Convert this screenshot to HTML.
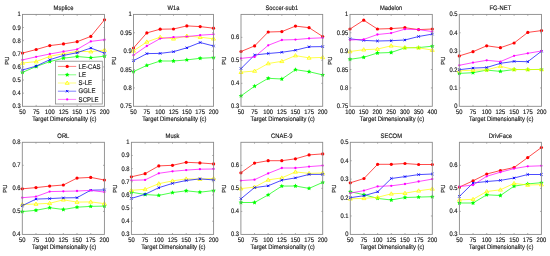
<!DOCTYPE html>
<html><head><meta charset="utf-8"><style>
html,body{margin:0;padding:0;background:#fff;}
svg{display:block;}
text{font-family:"Liberation Sans",sans-serif;font-size:5.85px;fill:#111;stroke:#111;stroke-width:0.12px;}
</style></head><body>
<svg width="550" height="256" viewBox="0 0 550 256" >
<defs></defs>
<rect width="550" height="256" fill="#fff"/>
<g>
<path d="M22.50 93.17h1.4M104.50 93.17h-1.4" stroke="#8a8a8a" stroke-width="0.7"/>
<path d="M22.50 80.04h1.4M104.50 80.04h-1.4" stroke="#8a8a8a" stroke-width="0.7"/>
<path d="M22.50 66.91h1.4M104.50 66.91h-1.4" stroke="#8a8a8a" stroke-width="0.7"/>
<path d="M22.50 53.79h1.4M104.50 53.79h-1.4" stroke="#8a8a8a" stroke-width="0.7"/>
<path d="M22.50 40.66h1.4M104.50 40.66h-1.4" stroke="#8a8a8a" stroke-width="0.7"/>
<path d="M22.50 27.53h1.4M104.50 27.53h-1.4" stroke="#8a8a8a" stroke-width="0.7"/>
<path d="M36.17 106.30v-1.4M36.17 14.40v1.4" stroke="#8a8a8a" stroke-width="0.7"/>
<path d="M49.83 106.30v-1.4M49.83 14.40v1.4" stroke="#8a8a8a" stroke-width="0.7"/>
<path d="M63.50 106.30v-1.4M63.50 14.40v1.4" stroke="#8a8a8a" stroke-width="0.7"/>
<path d="M77.17 106.30v-1.4M77.17 14.40v1.4" stroke="#8a8a8a" stroke-width="0.7"/>
<path d="M90.83 106.30v-1.4M90.83 14.40v1.4" stroke="#8a8a8a" stroke-width="0.7"/>
<polyline points="22.50,53.10 36.17,49.50 49.83,45.60 63.50,43.90 77.17,41.70 90.83,36.40 104.50,19.80" fill="none" stroke="#ff0000" stroke-width="1.0" stroke-opacity="0.7"/>
<circle cx="22.50" cy="53.10" r="1.6" fill="#ff0000"/>
<circle cx="36.17" cy="49.50" r="1.6" fill="#ff0000"/>
<circle cx="49.83" cy="45.60" r="1.6" fill="#ff0000"/>
<circle cx="63.50" cy="43.90" r="1.6" fill="#ff0000"/>
<circle cx="77.17" cy="41.70" r="1.6" fill="#ff0000"/>
<circle cx="90.83" cy="36.40" r="1.6" fill="#ff0000"/>
<circle cx="104.50" cy="19.80" r="1.6" fill="#ff0000"/>
<polyline points="22.50,72.40 36.17,66.50 49.83,61.60 63.50,58.20 77.17,56.50 90.83,57.70 104.50,56.20" fill="none" stroke="#00ff00" stroke-width="1.0" stroke-opacity="0.7"/>
<polygon points="22.50,70.00 23.18,71.47 24.78,71.66 23.59,72.76 23.91,74.34 22.50,73.55 21.09,74.34 21.41,72.76 20.22,71.66 21.82,71.47" fill="#00ff00"/>
<polygon points="36.17,64.10 36.84,65.57 38.45,65.76 37.26,66.86 37.58,68.44 36.17,67.65 34.76,68.44 35.07,66.86 33.88,65.76 35.49,65.57" fill="#00ff00"/>
<polygon points="49.83,59.20 50.51,60.67 52.12,60.86 50.93,61.96 51.24,63.54 49.83,62.75 48.42,63.54 48.74,61.96 47.55,60.86 49.16,60.67" fill="#00ff00"/>
<polygon points="63.50,55.80 64.18,57.27 65.78,57.46 64.59,58.56 64.91,60.14 63.50,59.35 62.09,60.14 62.41,58.56 61.22,57.46 62.82,57.27" fill="#00ff00"/>
<polygon points="77.17,54.10 77.84,55.57 79.45,55.76 78.26,56.86 78.58,58.44 77.17,57.65 75.76,58.44 76.07,56.86 74.88,55.76 76.49,55.57" fill="#00ff00"/>
<polygon points="90.83,55.30 91.51,56.77 93.12,56.96 91.93,58.06 92.24,59.64 90.83,58.85 89.42,59.64 89.74,58.06 88.55,56.96 90.16,56.77" fill="#00ff00"/>
<polygon points="104.50,53.80 105.18,55.27 106.78,55.46 105.59,56.56 105.91,58.14 104.50,57.35 103.09,58.14 103.41,56.56 102.22,55.46 103.82,55.27" fill="#00ff00"/>
<polyline points="22.50,63.00 36.17,61.60 49.83,56.30 63.50,53.70 77.17,51.40 90.83,51.60 104.50,50.00" fill="none" stroke="#ffff00" stroke-width="1.0" stroke-opacity="0.7"/>
<polygon points="22.50,61.00 24.50,64.30 20.50,64.30" fill="none" stroke="#ffff00" stroke-width="0.8"/>
<polygon points="36.17,59.60 38.17,62.90 34.17,62.90" fill="none" stroke="#ffff00" stroke-width="0.8"/>
<polygon points="49.83,54.30 51.83,57.60 47.83,57.60" fill="none" stroke="#ffff00" stroke-width="0.8"/>
<polygon points="63.50,51.70 65.50,55.00 61.50,55.00" fill="none" stroke="#ffff00" stroke-width="0.8"/>
<polygon points="77.17,49.40 79.17,52.70 75.17,52.70" fill="none" stroke="#ffff00" stroke-width="0.8"/>
<polygon points="90.83,49.60 92.83,52.90 88.83,52.90" fill="none" stroke="#ffff00" stroke-width="0.8"/>
<polygon points="104.50,48.00 106.50,51.30 102.50,51.30" fill="none" stroke="#ffff00" stroke-width="0.8"/>
<polyline points="22.50,70.00 36.17,66.10 49.83,59.70 63.50,55.40 77.17,52.70 90.83,48.00 104.50,53.20" fill="none" stroke="#0000ff" stroke-width="1.0" stroke-opacity="0.7"/>
<path d="M21.30 68.80L23.70 71.20M21.30 71.20L23.70 68.80" stroke="#0000ff" stroke-width="0.9"/>
<path d="M34.97 64.90L37.37 67.30M34.97 67.30L37.37 64.90" stroke="#0000ff" stroke-width="0.9"/>
<path d="M48.63 58.50L51.03 60.90M48.63 60.90L51.03 58.50" stroke="#0000ff" stroke-width="0.9"/>
<path d="M62.30 54.20L64.70 56.60M62.30 56.60L64.70 54.20" stroke="#0000ff" stroke-width="0.9"/>
<path d="M75.97 51.50L78.37 53.90M75.97 53.90L78.37 51.50" stroke="#0000ff" stroke-width="0.9"/>
<path d="M89.63 46.80L92.03 49.20M89.63 49.20L92.03 46.80" stroke="#0000ff" stroke-width="0.9"/>
<path d="M103.30 52.00L105.70 54.40M103.30 54.40L105.70 52.00" stroke="#0000ff" stroke-width="0.9"/>
<polyline points="22.50,59.90 36.17,56.80 49.83,54.00 63.50,51.50 77.17,49.30 90.83,41.40 104.50,39.70" fill="none" stroke="#ff00ff" stroke-width="1.0" stroke-opacity="0.7"/>
<circle cx="22.50" cy="59.90" r="1.15" fill="#ff00ff"/>
<circle cx="36.17" cy="56.80" r="1.15" fill="#ff00ff"/>
<circle cx="49.83" cy="54.00" r="1.15" fill="#ff00ff"/>
<circle cx="63.50" cy="51.50" r="1.15" fill="#ff00ff"/>
<circle cx="77.17" cy="49.30" r="1.15" fill="#ff00ff"/>
<circle cx="90.83" cy="41.40" r="1.15" fill="#ff00ff"/>
<circle cx="104.50" cy="39.70" r="1.15" fill="#ff00ff"/>
<rect x="22.50" y="14.40" width="82.00" height="91.90" fill="none" stroke="#8a8a8a" stroke-width="0.9"/>
<path d="M133.50 87.92h1.4M213.50 87.92h-1.4" stroke="#8a8a8a" stroke-width="0.7"/>
<path d="M133.50 69.54h1.4M213.50 69.54h-1.4" stroke="#8a8a8a" stroke-width="0.7"/>
<path d="M133.50 51.16h1.4M213.50 51.16h-1.4" stroke="#8a8a8a" stroke-width="0.7"/>
<path d="M133.50 32.78h1.4M213.50 32.78h-1.4" stroke="#8a8a8a" stroke-width="0.7"/>
<path d="M146.83 106.30v-1.4M146.83 14.40v1.4" stroke="#8a8a8a" stroke-width="0.7"/>
<path d="M160.17 106.30v-1.4M160.17 14.40v1.4" stroke="#8a8a8a" stroke-width="0.7"/>
<path d="M173.50 106.30v-1.4M173.50 14.40v1.4" stroke="#8a8a8a" stroke-width="0.7"/>
<path d="M186.83 106.30v-1.4M186.83 14.40v1.4" stroke="#8a8a8a" stroke-width="0.7"/>
<path d="M200.17 106.30v-1.4M200.17 14.40v1.4" stroke="#8a8a8a" stroke-width="0.7"/>
<polyline points="133.50,48.00 146.83,32.90 160.17,29.20 173.50,29.00 186.83,25.90 200.17,26.60 213.50,28.20" fill="none" stroke="#ff0000" stroke-width="1.0" stroke-opacity="0.7"/>
<circle cx="133.50" cy="48.00" r="1.6" fill="#ff0000"/>
<circle cx="146.83" cy="32.90" r="1.6" fill="#ff0000"/>
<circle cx="160.17" cy="29.20" r="1.6" fill="#ff0000"/>
<circle cx="173.50" cy="29.00" r="1.6" fill="#ff0000"/>
<circle cx="186.83" cy="25.90" r="1.6" fill="#ff0000"/>
<circle cx="200.17" cy="26.60" r="1.6" fill="#ff0000"/>
<circle cx="213.50" cy="28.20" r="1.6" fill="#ff0000"/>
<polyline points="133.50,71.60 146.83,65.40 160.17,61.00 173.50,61.00 186.83,59.90 200.17,58.30 213.50,57.60" fill="none" stroke="#00ff00" stroke-width="1.0" stroke-opacity="0.7"/>
<polygon points="133.50,69.20 134.18,70.67 135.78,70.86 134.59,71.96 134.91,73.54 133.50,72.75 132.09,73.54 132.41,71.96 131.22,70.86 132.82,70.67" fill="#00ff00"/>
<polygon points="146.83,63.00 147.51,64.47 149.12,64.66 147.93,65.76 148.24,67.34 146.83,66.55 145.42,67.34 145.74,65.76 144.55,64.66 146.16,64.47" fill="#00ff00"/>
<polygon points="160.17,58.60 160.84,60.07 162.45,60.26 161.26,61.36 161.58,62.94 160.17,62.15 158.76,62.94 159.07,61.36 157.88,60.26 159.49,60.07" fill="#00ff00"/>
<polygon points="173.50,58.60 174.18,60.07 175.78,60.26 174.59,61.36 174.91,62.94 173.50,62.15 172.09,62.94 172.41,61.36 171.22,60.26 172.82,60.07" fill="#00ff00"/>
<polygon points="186.83,57.50 187.51,58.97 189.12,59.16 187.93,60.26 188.24,61.84 186.83,61.05 185.42,61.84 185.74,60.26 184.55,59.16 186.16,58.97" fill="#00ff00"/>
<polygon points="200.17,55.90 200.84,57.37 202.45,57.56 201.26,58.66 201.58,60.24 200.17,59.45 198.76,60.24 199.07,58.66 197.88,57.56 199.49,57.37" fill="#00ff00"/>
<polygon points="213.50,55.20 214.18,56.67 215.78,56.86 214.59,57.96 214.91,59.54 213.50,58.75 212.09,59.54 212.41,57.96 211.22,56.86 212.82,56.67" fill="#00ff00"/>
<polyline points="133.50,50.90 146.83,41.90 160.17,37.20 173.50,38.80 186.83,36.00 200.17,37.20 213.50,38.80" fill="none" stroke="#ffff00" stroke-width="1.0" stroke-opacity="0.7"/>
<polygon points="133.50,48.90 135.50,52.20 131.50,52.20" fill="none" stroke="#ffff00" stroke-width="0.8"/>
<polygon points="146.83,39.90 148.83,43.20 144.83,43.20" fill="none" stroke="#ffff00" stroke-width="0.8"/>
<polygon points="160.17,35.20 162.17,38.50 158.17,38.50" fill="none" stroke="#ffff00" stroke-width="0.8"/>
<polygon points="173.50,36.80 175.50,40.10 171.50,40.10" fill="none" stroke="#ffff00" stroke-width="0.8"/>
<polygon points="186.83,34.00 188.83,37.30 184.83,37.30" fill="none" stroke="#ffff00" stroke-width="0.8"/>
<polygon points="200.17,35.20 202.17,38.50 198.17,38.50" fill="none" stroke="#ffff00" stroke-width="0.8"/>
<polygon points="213.50,36.80 215.50,40.10 211.50,40.10" fill="none" stroke="#ffff00" stroke-width="0.8"/>
<polyline points="133.50,60.70 146.83,53.60 160.17,53.40 173.50,51.70 186.83,47.80 200.17,42.50 213.50,46.00" fill="none" stroke="#0000ff" stroke-width="1.0" stroke-opacity="0.7"/>
<path d="M132.30 59.50L134.70 61.90M132.30 61.90L134.70 59.50" stroke="#0000ff" stroke-width="0.9"/>
<path d="M145.63 52.40L148.03 54.80M145.63 54.80L148.03 52.40" stroke="#0000ff" stroke-width="0.9"/>
<path d="M158.97 52.20L161.37 54.60M158.97 54.60L161.37 52.20" stroke="#0000ff" stroke-width="0.9"/>
<path d="M172.30 50.50L174.70 52.90M172.30 52.90L174.70 50.50" stroke="#0000ff" stroke-width="0.9"/>
<path d="M185.63 46.60L188.03 49.00M185.63 49.00L188.03 46.60" stroke="#0000ff" stroke-width="0.9"/>
<path d="M198.97 41.30L201.37 43.70M198.97 43.70L201.37 41.30" stroke="#0000ff" stroke-width="0.9"/>
<path d="M212.30 44.80L214.70 47.20M212.30 47.20L214.70 44.80" stroke="#0000ff" stroke-width="0.9"/>
<polyline points="133.50,55.20 146.83,46.00 160.17,38.60 173.50,37.20 186.83,36.60 200.17,35.20 213.50,34.30" fill="none" stroke="#ff00ff" stroke-width="1.0" stroke-opacity="0.7"/>
<circle cx="133.50" cy="55.20" r="1.15" fill="#ff00ff"/>
<circle cx="146.83" cy="46.00" r="1.15" fill="#ff00ff"/>
<circle cx="160.17" cy="38.60" r="1.15" fill="#ff00ff"/>
<circle cx="173.50" cy="37.20" r="1.15" fill="#ff00ff"/>
<circle cx="186.83" cy="36.60" r="1.15" fill="#ff00ff"/>
<circle cx="200.17" cy="35.20" r="1.15" fill="#ff00ff"/>
<circle cx="213.50" cy="34.30" r="1.15" fill="#ff00ff"/>
<rect x="133.50" y="14.40" width="80.00" height="91.90" fill="none" stroke="#8a8a8a" stroke-width="0.9"/>
<path d="M241.00 83.32h1.4M322.70 83.32h-1.4" stroke="#8a8a8a" stroke-width="0.7"/>
<path d="M241.00 60.35h1.4M322.70 60.35h-1.4" stroke="#8a8a8a" stroke-width="0.7"/>
<path d="M241.00 37.37h1.4M322.70 37.37h-1.4" stroke="#8a8a8a" stroke-width="0.7"/>
<path d="M254.62 106.30v-1.4M254.62 14.40v1.4" stroke="#8a8a8a" stroke-width="0.7"/>
<path d="M268.23 106.30v-1.4M268.23 14.40v1.4" stroke="#8a8a8a" stroke-width="0.7"/>
<path d="M281.85 106.30v-1.4M281.85 14.40v1.4" stroke="#8a8a8a" stroke-width="0.7"/>
<path d="M295.47 106.30v-1.4M295.47 14.40v1.4" stroke="#8a8a8a" stroke-width="0.7"/>
<path d="M309.08 106.30v-1.4M309.08 14.40v1.4" stroke="#8a8a8a" stroke-width="0.7"/>
<polyline points="241.00,51.50 254.62,45.90 268.23,32.00 281.85,31.60 295.47,26.10 309.08,27.70 322.70,36.50" fill="none" stroke="#ff0000" stroke-width="1.0" stroke-opacity="0.7"/>
<circle cx="241.00" cy="51.50" r="1.6" fill="#ff0000"/>
<circle cx="254.62" cy="45.90" r="1.6" fill="#ff0000"/>
<circle cx="268.23" cy="32.00" r="1.6" fill="#ff0000"/>
<circle cx="281.85" cy="31.60" r="1.6" fill="#ff0000"/>
<circle cx="295.47" cy="26.10" r="1.6" fill="#ff0000"/>
<circle cx="309.08" cy="27.70" r="1.6" fill="#ff0000"/>
<circle cx="322.70" cy="36.50" r="1.6" fill="#ff0000"/>
<polyline points="241.00,95.90 254.62,86.20 268.23,78.30 281.85,79.00 295.47,69.70 309.08,71.70 322.70,74.90" fill="none" stroke="#00ff00" stroke-width="1.0" stroke-opacity="0.7"/>
<polygon points="241.00,93.50 241.68,94.97 243.28,95.16 242.09,96.26 242.41,97.84 241.00,97.05 239.59,97.84 239.91,96.26 238.72,95.16 240.32,94.97" fill="#00ff00"/>
<polygon points="254.62,83.80 255.29,85.27 256.90,85.46 255.71,86.56 256.03,88.14 254.62,87.35 253.21,88.14 253.52,86.56 252.33,85.46 253.94,85.27" fill="#00ff00"/>
<polygon points="268.23,75.90 268.91,77.37 270.52,77.56 269.33,78.66 269.64,80.24 268.23,79.45 266.82,80.24 267.14,78.66 265.95,77.56 267.56,77.37" fill="#00ff00"/>
<polygon points="281.85,76.60 282.53,78.07 284.13,78.26 282.94,79.36 283.26,80.94 281.85,80.15 280.44,80.94 280.76,79.36 279.57,78.26 281.17,78.07" fill="#00ff00"/>
<polygon points="295.47,67.30 296.14,68.77 297.75,68.96 296.56,70.06 296.88,71.64 295.47,70.85 294.06,71.64 294.37,70.06 293.18,68.96 294.79,68.77" fill="#00ff00"/>
<polygon points="309.08,69.30 309.76,70.77 311.37,70.96 310.18,72.06 310.49,73.64 309.08,72.85 307.67,73.64 307.99,72.06 306.80,70.96 308.41,70.77" fill="#00ff00"/>
<polygon points="322.70,72.50 323.38,73.97 324.98,74.16 323.79,75.26 324.11,76.84 322.70,76.05 321.29,76.84 321.61,75.26 320.42,74.16 322.02,73.97" fill="#00ff00"/>
<polyline points="241.00,72.20 254.62,71.00 268.23,63.50 281.85,61.30 295.47,55.60 309.08,57.90 322.70,57.40" fill="none" stroke="#ffff00" stroke-width="1.0" stroke-opacity="0.7"/>
<polygon points="241.00,70.20 243.00,73.50 239.00,73.50" fill="none" stroke="#ffff00" stroke-width="0.8"/>
<polygon points="254.62,69.00 256.62,72.30 252.62,72.30" fill="none" stroke="#ffff00" stroke-width="0.8"/>
<polygon points="268.23,61.50 270.23,64.80 266.23,64.80" fill="none" stroke="#ffff00" stroke-width="0.8"/>
<polygon points="281.85,59.30 283.85,62.60 279.85,62.60" fill="none" stroke="#ffff00" stroke-width="0.8"/>
<polygon points="295.47,53.60 297.47,56.90 293.47,56.90" fill="none" stroke="#ffff00" stroke-width="0.8"/>
<polygon points="309.08,55.90 311.08,59.20 307.08,59.20" fill="none" stroke="#ffff00" stroke-width="0.8"/>
<polygon points="322.70,55.40 324.70,58.70 320.70,58.70" fill="none" stroke="#ffff00" stroke-width="0.8"/>
<polyline points="241.00,68.60 254.62,55.00 268.23,53.50 281.85,52.30 295.47,50.20 309.08,46.80 322.70,46.60" fill="none" stroke="#0000ff" stroke-width="1.0" stroke-opacity="0.7"/>
<path d="M239.80 67.40L242.20 69.80M239.80 69.80L242.20 67.40" stroke="#0000ff" stroke-width="0.9"/>
<path d="M253.42 53.80L255.82 56.20M253.42 56.20L255.82 53.80" stroke="#0000ff" stroke-width="0.9"/>
<path d="M267.03 52.30L269.43 54.70M267.03 54.70L269.43 52.30" stroke="#0000ff" stroke-width="0.9"/>
<path d="M280.65 51.10L283.05 53.50M280.65 53.50L283.05 51.10" stroke="#0000ff" stroke-width="0.9"/>
<path d="M294.27 49.00L296.67 51.40M294.27 51.40L296.67 49.00" stroke="#0000ff" stroke-width="0.9"/>
<path d="M307.88 45.60L310.28 48.00M307.88 48.00L310.28 45.60" stroke="#0000ff" stroke-width="0.9"/>
<path d="M321.50 45.40L323.90 47.80M321.50 47.80L323.90 45.40" stroke="#0000ff" stroke-width="0.9"/>
<polyline points="241.00,58.40 254.62,56.90 268.23,45.30 281.85,40.00 295.47,39.60 309.08,38.40 322.70,37.80" fill="none" stroke="#ff00ff" stroke-width="1.0" stroke-opacity="0.7"/>
<circle cx="241.00" cy="58.40" r="1.15" fill="#ff00ff"/>
<circle cx="254.62" cy="56.90" r="1.15" fill="#ff00ff"/>
<circle cx="268.23" cy="45.30" r="1.15" fill="#ff00ff"/>
<circle cx="281.85" cy="40.00" r="1.15" fill="#ff00ff"/>
<circle cx="295.47" cy="39.60" r="1.15" fill="#ff00ff"/>
<circle cx="309.08" cy="38.40" r="1.15" fill="#ff00ff"/>
<circle cx="322.70" cy="37.80" r="1.15" fill="#ff00ff"/>
<rect x="241.00" y="14.40" width="81.70" height="91.90" fill="none" stroke="#8a8a8a" stroke-width="0.9"/>
<path d="M350.00 87.92h1.4M432.30 87.92h-1.4" stroke="#8a8a8a" stroke-width="0.7"/>
<path d="M350.00 69.54h1.4M432.30 69.54h-1.4" stroke="#8a8a8a" stroke-width="0.7"/>
<path d="M350.00 51.16h1.4M432.30 51.16h-1.4" stroke="#8a8a8a" stroke-width="0.7"/>
<path d="M350.00 32.78h1.4M432.30 32.78h-1.4" stroke="#8a8a8a" stroke-width="0.7"/>
<path d="M363.72 106.30v-1.4M363.72 14.40v1.4" stroke="#8a8a8a" stroke-width="0.7"/>
<path d="M377.43 106.30v-1.4M377.43 14.40v1.4" stroke="#8a8a8a" stroke-width="0.7"/>
<path d="M391.15 106.30v-1.4M391.15 14.40v1.4" stroke="#8a8a8a" stroke-width="0.7"/>
<path d="M404.87 106.30v-1.4M404.87 14.40v1.4" stroke="#8a8a8a" stroke-width="0.7"/>
<path d="M418.58 106.30v-1.4M418.58 14.40v1.4" stroke="#8a8a8a" stroke-width="0.7"/>
<polyline points="350.00,29.00 363.72,20.20 377.43,29.00 391.15,28.60 404.87,27.70 418.58,29.60 432.30,29.00" fill="none" stroke="#ff0000" stroke-width="1.0" stroke-opacity="0.7"/>
<circle cx="350.00" cy="29.00" r="1.6" fill="#ff0000"/>
<circle cx="363.72" cy="20.20" r="1.6" fill="#ff0000"/>
<circle cx="377.43" cy="29.00" r="1.6" fill="#ff0000"/>
<circle cx="391.15" cy="28.60" r="1.6" fill="#ff0000"/>
<circle cx="404.87" cy="27.70" r="1.6" fill="#ff0000"/>
<circle cx="418.58" cy="29.60" r="1.6" fill="#ff0000"/>
<circle cx="432.30" cy="29.00" r="1.6" fill="#ff0000"/>
<polyline points="350.00,59.30 363.72,57.30 377.43,53.00 391.15,52.50 404.87,47.80 418.58,47.60 432.30,46.20" fill="none" stroke="#00ff00" stroke-width="1.0" stroke-opacity="0.7"/>
<polygon points="350.00,56.90 350.68,58.37 352.28,58.56 351.09,59.66 351.41,61.24 350.00,60.45 348.59,61.24 348.91,59.66 347.72,58.56 349.32,58.37" fill="#00ff00"/>
<polygon points="363.72,54.90 364.39,56.37 366.00,56.56 364.81,57.66 365.13,59.24 363.72,58.45 362.31,59.24 362.62,57.66 361.43,56.56 363.04,56.37" fill="#00ff00"/>
<polygon points="377.43,50.60 378.11,52.07 379.72,52.26 378.53,53.36 378.84,54.94 377.43,54.15 376.02,54.94 376.34,53.36 375.15,52.26 376.76,52.07" fill="#00ff00"/>
<polygon points="391.15,50.10 391.83,51.57 393.43,51.76 392.24,52.86 392.56,54.44 391.15,53.65 389.74,54.44 390.06,52.86 388.87,51.76 390.47,51.57" fill="#00ff00"/>
<polygon points="404.87,45.40 405.54,46.87 407.15,47.06 405.96,48.16 406.28,49.74 404.87,48.95 403.46,49.74 403.77,48.16 402.58,47.06 404.19,46.87" fill="#00ff00"/>
<polygon points="418.58,45.20 419.26,46.67 420.87,46.86 419.68,47.96 419.99,49.54 418.58,48.75 417.17,49.54 417.49,47.96 416.30,46.86 417.91,46.67" fill="#00ff00"/>
<polygon points="432.30,43.80 432.98,45.27 434.58,45.46 433.39,46.56 433.71,48.14 432.30,47.35 430.89,48.14 431.21,46.56 430.02,45.46 431.62,45.27" fill="#00ff00"/>
<polyline points="350.00,51.50 363.72,49.70 377.43,49.10 391.15,45.80 404.87,47.60 418.58,47.80 432.30,50.10" fill="none" stroke="#ffff00" stroke-width="1.0" stroke-opacity="0.7"/>
<polygon points="350.00,49.50 352.00,52.80 348.00,52.80" fill="none" stroke="#ffff00" stroke-width="0.8"/>
<polygon points="363.72,47.70 365.72,51.00 361.72,51.00" fill="none" stroke="#ffff00" stroke-width="0.8"/>
<polygon points="377.43,47.10 379.43,50.40 375.43,50.40" fill="none" stroke="#ffff00" stroke-width="0.8"/>
<polygon points="391.15,43.80 393.15,47.10 389.15,47.10" fill="none" stroke="#ffff00" stroke-width="0.8"/>
<polygon points="404.87,45.60 406.87,48.90 402.87,48.90" fill="none" stroke="#ffff00" stroke-width="0.8"/>
<polygon points="418.58,45.80 420.58,49.10 416.58,49.10" fill="none" stroke="#ffff00" stroke-width="0.8"/>
<polygon points="432.30,48.10 434.30,51.40 430.30,51.40" fill="none" stroke="#ffff00" stroke-width="0.8"/>
<polyline points="350.00,38.80 363.72,40.40 377.43,41.00 391.15,40.70 404.87,40.00 418.58,36.50 432.30,34.10" fill="none" stroke="#0000ff" stroke-width="1.0" stroke-opacity="0.7"/>
<path d="M348.80 37.60L351.20 40.00M348.80 40.00L351.20 37.60" stroke="#0000ff" stroke-width="0.9"/>
<path d="M362.52 39.20L364.92 41.60M362.52 41.60L364.92 39.20" stroke="#0000ff" stroke-width="0.9"/>
<path d="M376.23 39.80L378.63 42.20M376.23 42.20L378.63 39.80" stroke="#0000ff" stroke-width="0.9"/>
<path d="M389.95 39.50L392.35 41.90M389.95 41.90L392.35 39.50" stroke="#0000ff" stroke-width="0.9"/>
<path d="M403.67 38.80L406.07 41.20M403.67 41.20L406.07 38.80" stroke="#0000ff" stroke-width="0.9"/>
<path d="M417.38 35.30L419.78 37.70M417.38 37.70L419.78 35.30" stroke="#0000ff" stroke-width="0.9"/>
<path d="M431.10 32.90L433.50 35.30M431.10 35.30L433.50 32.90" stroke="#0000ff" stroke-width="0.9"/>
<polyline points="350.00,40.00 363.72,39.40 377.43,34.50 391.15,33.10 404.87,29.20 418.58,29.60 432.30,31.60" fill="none" stroke="#ff00ff" stroke-width="1.0" stroke-opacity="0.7"/>
<circle cx="350.00" cy="40.00" r="1.15" fill="#ff00ff"/>
<circle cx="363.72" cy="39.40" r="1.15" fill="#ff00ff"/>
<circle cx="377.43" cy="34.50" r="1.15" fill="#ff00ff"/>
<circle cx="391.15" cy="33.10" r="1.15" fill="#ff00ff"/>
<circle cx="404.87" cy="29.20" r="1.15" fill="#ff00ff"/>
<circle cx="418.58" cy="29.60" r="1.15" fill="#ff00ff"/>
<circle cx="432.30" cy="31.60" r="1.15" fill="#ff00ff"/>
<rect x="350.00" y="14.40" width="82.30" height="91.90" fill="none" stroke="#8a8a8a" stroke-width="0.9"/>
<path d="M459.30 87.92h1.4M541.50 87.92h-1.4" stroke="#8a8a8a" stroke-width="0.7"/>
<path d="M459.30 69.54h1.4M541.50 69.54h-1.4" stroke="#8a8a8a" stroke-width="0.7"/>
<path d="M459.30 51.16h1.4M541.50 51.16h-1.4" stroke="#8a8a8a" stroke-width="0.7"/>
<path d="M459.30 32.78h1.4M541.50 32.78h-1.4" stroke="#8a8a8a" stroke-width="0.7"/>
<path d="M473.00 106.30v-1.4M473.00 14.40v1.4" stroke="#8a8a8a" stroke-width="0.7"/>
<path d="M486.70 106.30v-1.4M486.70 14.40v1.4" stroke="#8a8a8a" stroke-width="0.7"/>
<path d="M500.40 106.30v-1.4M500.40 14.40v1.4" stroke="#8a8a8a" stroke-width="0.7"/>
<path d="M514.10 106.30v-1.4M514.10 14.40v1.4" stroke="#8a8a8a" stroke-width="0.7"/>
<path d="M527.80 106.30v-1.4M527.80 14.40v1.4" stroke="#8a8a8a" stroke-width="0.7"/>
<polyline points="459.30,55.90 473.00,51.70 486.70,45.80 500.40,47.70 514.10,43.00 527.80,32.40 541.50,30.60" fill="none" stroke="#ff0000" stroke-width="1.0" stroke-opacity="0.7"/>
<circle cx="459.30" cy="55.90" r="1.6" fill="#ff0000"/>
<circle cx="473.00" cy="51.70" r="1.6" fill="#ff0000"/>
<circle cx="486.70" cy="45.80" r="1.6" fill="#ff0000"/>
<circle cx="500.40" cy="47.70" r="1.6" fill="#ff0000"/>
<circle cx="514.10" cy="43.00" r="1.6" fill="#ff0000"/>
<circle cx="527.80" cy="32.40" r="1.6" fill="#ff0000"/>
<circle cx="541.50" cy="30.60" r="1.6" fill="#ff0000"/>
<polyline points="459.30,73.40 473.00,72.70 486.70,70.10 500.40,71.40 514.10,69.50 527.80,69.60 541.50,69.40" fill="none" stroke="#00ff00" stroke-width="1.0" stroke-opacity="0.7"/>
<polygon points="459.30,71.00 459.98,72.47 461.58,72.66 460.39,73.76 460.71,75.34 459.30,74.55 457.89,75.34 458.21,73.76 457.02,72.66 458.62,72.47" fill="#00ff00"/>
<polygon points="473.00,70.30 473.68,71.77 475.28,71.96 474.09,73.06 474.41,74.64 473.00,73.85 471.59,74.64 471.91,73.06 470.72,71.96 472.32,71.77" fill="#00ff00"/>
<polygon points="486.70,67.70 487.38,69.17 488.98,69.36 487.79,70.46 488.11,72.04 486.70,71.25 485.29,72.04 485.61,70.46 484.42,69.36 486.02,69.17" fill="#00ff00"/>
<polygon points="500.40,69.00 501.08,70.47 502.68,70.66 501.49,71.76 501.81,73.34 500.40,72.55 498.99,73.34 499.31,71.76 498.12,70.66 499.72,70.47" fill="#00ff00"/>
<polygon points="514.10,67.10 514.78,68.57 516.38,68.76 515.19,69.86 515.51,71.44 514.10,70.65 512.69,71.44 513.01,69.86 511.82,68.76 513.42,68.57" fill="#00ff00"/>
<polygon points="527.80,67.20 528.48,68.67 530.08,68.86 528.89,69.96 529.21,71.54 527.80,70.75 526.39,71.54 526.71,69.96 525.52,68.86 527.12,68.67" fill="#00ff00"/>
<polygon points="541.50,67.00 542.18,68.47 543.78,68.66 542.59,69.76 542.91,71.34 541.50,70.55 540.09,71.34 540.41,69.76 539.22,68.66 540.82,68.47" fill="#00ff00"/>
<polyline points="459.30,70.80 473.00,70.20 486.70,69.80 500.40,66.30 514.10,69.50 527.80,69.50 541.50,69.50" fill="none" stroke="#ffff00" stroke-width="1.0" stroke-opacity="0.7"/>
<polygon points="459.30,68.80 461.30,72.10 457.30,72.10" fill="none" stroke="#ffff00" stroke-width="0.8"/>
<polygon points="473.00,68.20 475.00,71.50 471.00,71.50" fill="none" stroke="#ffff00" stroke-width="0.8"/>
<polygon points="486.70,67.80 488.70,71.10 484.70,71.10" fill="none" stroke="#ffff00" stroke-width="0.8"/>
<polygon points="500.40,64.30 502.40,67.60 498.40,67.60" fill="none" stroke="#ffff00" stroke-width="0.8"/>
<polygon points="514.10,67.50 516.10,70.80 512.10,70.80" fill="none" stroke="#ffff00" stroke-width="0.8"/>
<polygon points="527.80,67.50 529.80,70.80 525.80,70.80" fill="none" stroke="#ffff00" stroke-width="0.8"/>
<polygon points="541.50,67.50 543.50,70.80 539.50,70.80" fill="none" stroke="#ffff00" stroke-width="0.8"/>
<polyline points="459.30,69.70 473.00,68.10 486.70,67.50 500.40,63.30 514.10,61.40 527.80,61.70 541.50,51.20" fill="none" stroke="#0000ff" stroke-width="1.0" stroke-opacity="0.7"/>
<path d="M458.10 68.50L460.50 70.90M458.10 70.90L460.50 68.50" stroke="#0000ff" stroke-width="0.9"/>
<path d="M471.80 66.90L474.20 69.30M471.80 69.30L474.20 66.90" stroke="#0000ff" stroke-width="0.9"/>
<path d="M485.50 66.30L487.90 68.70M485.50 68.70L487.90 66.30" stroke="#0000ff" stroke-width="0.9"/>
<path d="M499.20 62.10L501.60 64.50M499.20 64.50L501.60 62.10" stroke="#0000ff" stroke-width="0.9"/>
<path d="M512.90 60.20L515.30 62.60M512.90 62.60L515.30 60.20" stroke="#0000ff" stroke-width="0.9"/>
<path d="M526.60 60.50L529.00 62.90M526.60 62.90L529.00 60.50" stroke="#0000ff" stroke-width="0.9"/>
<path d="M540.30 50.00L542.70 52.40M540.30 52.40L542.70 50.00" stroke="#0000ff" stroke-width="0.9"/>
<polyline points="459.30,65.30 473.00,62.60 486.70,60.30 500.40,61.60 514.10,55.80 527.80,53.30 541.50,51.00" fill="none" stroke="#ff00ff" stroke-width="1.0" stroke-opacity="0.7"/>
<circle cx="459.30" cy="65.30" r="1.15" fill="#ff00ff"/>
<circle cx="473.00" cy="62.60" r="1.15" fill="#ff00ff"/>
<circle cx="486.70" cy="60.30" r="1.15" fill="#ff00ff"/>
<circle cx="500.40" cy="61.60" r="1.15" fill="#ff00ff"/>
<circle cx="514.10" cy="55.80" r="1.15" fill="#ff00ff"/>
<circle cx="527.80" cy="53.30" r="1.15" fill="#ff00ff"/>
<circle cx="541.50" cy="51.00" r="1.15" fill="#ff00ff"/>
<rect x="459.30" y="14.40" width="82.20" height="91.90" fill="none" stroke="#8a8a8a" stroke-width="0.9"/>
<path d="M22.30 211.38h1.4M104.40 211.38h-1.4" stroke="#8a8a8a" stroke-width="0.7"/>
<path d="M22.30 188.35h1.4M104.40 188.35h-1.4" stroke="#8a8a8a" stroke-width="0.7"/>
<path d="M22.30 165.32h1.4M104.40 165.32h-1.4" stroke="#8a8a8a" stroke-width="0.7"/>
<path d="M35.98 234.40v-1.4M35.98 142.30v1.4" stroke="#8a8a8a" stroke-width="0.7"/>
<path d="M49.67 234.40v-1.4M49.67 142.30v1.4" stroke="#8a8a8a" stroke-width="0.7"/>
<path d="M63.35 234.40v-1.4M63.35 142.30v1.4" stroke="#8a8a8a" stroke-width="0.7"/>
<path d="M77.03 234.40v-1.4M77.03 142.30v1.4" stroke="#8a8a8a" stroke-width="0.7"/>
<path d="M90.72 234.40v-1.4M90.72 142.30v1.4" stroke="#8a8a8a" stroke-width="0.7"/>
<polyline points="22.30,188.80 35.98,187.60 49.67,186.10 63.35,185.00 77.03,178.10 90.72,177.40 104.40,180.00" fill="none" stroke="#ff0000" stroke-width="1.0" stroke-opacity="0.7"/>
<circle cx="22.30" cy="188.80" r="1.6" fill="#ff0000"/>
<circle cx="35.98" cy="187.60" r="1.6" fill="#ff0000"/>
<circle cx="49.67" cy="186.10" r="1.6" fill="#ff0000"/>
<circle cx="63.35" cy="185.00" r="1.6" fill="#ff0000"/>
<circle cx="77.03" cy="178.10" r="1.6" fill="#ff0000"/>
<circle cx="90.72" cy="177.40" r="1.6" fill="#ff0000"/>
<circle cx="104.40" cy="180.00" r="1.6" fill="#ff0000"/>
<polyline points="22.30,211.60 35.98,210.30 49.67,207.70 63.35,209.50 77.03,207.20 90.72,206.40 104.40,206.10" fill="none" stroke="#00ff00" stroke-width="1.0" stroke-opacity="0.7"/>
<polygon points="22.30,209.20 22.98,210.67 24.58,210.86 23.39,211.96 23.71,213.54 22.30,212.75 20.89,213.54 21.21,211.96 20.02,210.86 21.62,210.67" fill="#00ff00"/>
<polygon points="35.98,207.90 36.66,209.37 38.27,209.56 37.08,210.66 37.39,212.24 35.98,211.45 34.57,212.24 34.89,210.66 33.70,209.56 35.31,209.37" fill="#00ff00"/>
<polygon points="49.67,205.30 50.34,206.77 51.95,206.96 50.76,208.06 51.08,209.64 49.67,208.85 48.26,209.64 48.57,208.06 47.38,206.96 48.99,206.77" fill="#00ff00"/>
<polygon points="63.35,207.10 64.03,208.57 65.63,208.76 64.44,209.86 64.76,211.44 63.35,210.65 61.94,211.44 62.26,209.86 61.07,208.76 62.67,208.57" fill="#00ff00"/>
<polygon points="77.03,204.80 77.71,206.27 79.32,206.46 78.13,207.56 78.44,209.14 77.03,208.35 75.62,209.14 75.94,207.56 74.75,206.46 76.36,206.27" fill="#00ff00"/>
<polygon points="90.72,204.00 91.39,205.47 93.00,205.66 91.81,206.76 92.13,208.34 90.72,207.55 89.31,208.34 89.62,206.76 88.43,205.66 90.04,205.47" fill="#00ff00"/>
<polygon points="104.40,203.70 105.08,205.17 106.68,205.36 105.49,206.46 105.81,208.04 104.40,207.25 102.99,208.04 103.31,206.46 102.12,205.36 103.72,205.17" fill="#00ff00"/>
<polyline points="22.30,204.50 35.98,204.00 49.67,203.30 63.35,199.80 77.03,202.10 90.72,201.90 104.40,203.60" fill="none" stroke="#ffff00" stroke-width="1.0" stroke-opacity="0.7"/>
<polygon points="22.30,202.50 24.30,205.80 20.30,205.80" fill="none" stroke="#ffff00" stroke-width="0.8"/>
<polygon points="35.98,202.00 37.98,205.30 33.98,205.30" fill="none" stroke="#ffff00" stroke-width="0.8"/>
<polygon points="49.67,201.30 51.67,204.60 47.67,204.60" fill="none" stroke="#ffff00" stroke-width="0.8"/>
<polygon points="63.35,197.80 65.35,201.10 61.35,201.10" fill="none" stroke="#ffff00" stroke-width="0.8"/>
<polygon points="77.03,200.10 79.03,203.40 75.03,203.40" fill="none" stroke="#ffff00" stroke-width="0.8"/>
<polygon points="90.72,199.90 92.72,203.20 88.72,203.20" fill="none" stroke="#ffff00" stroke-width="0.8"/>
<polygon points="104.40,201.60 106.40,204.90 102.40,204.90" fill="none" stroke="#ffff00" stroke-width="0.8"/>
<polyline points="22.30,205.70 35.98,199.10 49.67,198.60 63.35,197.90 77.03,197.70 90.72,190.20 104.40,189.90" fill="none" stroke="#0000ff" stroke-width="1.0" stroke-opacity="0.7"/>
<path d="M21.10 204.50L23.50 206.90M21.10 206.90L23.50 204.50" stroke="#0000ff" stroke-width="0.9"/>
<path d="M34.78 197.90L37.18 200.30M34.78 200.30L37.18 197.90" stroke="#0000ff" stroke-width="0.9"/>
<path d="M48.47 197.40L50.87 199.80M48.47 199.80L50.87 197.40" stroke="#0000ff" stroke-width="0.9"/>
<path d="M62.15 196.70L64.55 199.10M62.15 199.10L64.55 196.70" stroke="#0000ff" stroke-width="0.9"/>
<path d="M75.83 196.50L78.23 198.90M75.83 198.90L78.23 196.50" stroke="#0000ff" stroke-width="0.9"/>
<path d="M89.52 189.00L91.92 191.40M89.52 191.40L91.92 189.00" stroke="#0000ff" stroke-width="0.9"/>
<path d="M103.20 188.70L105.60 191.10M103.20 191.10L105.60 188.70" stroke="#0000ff" stroke-width="0.9"/>
<polyline points="22.30,197.70 35.98,196.60 49.67,191.60 63.35,191.30 77.03,191.00 90.72,190.40 104.40,192.10" fill="none" stroke="#ff00ff" stroke-width="1.0" stroke-opacity="0.7"/>
<circle cx="22.30" cy="197.70" r="1.15" fill="#ff00ff"/>
<circle cx="35.98" cy="196.60" r="1.15" fill="#ff00ff"/>
<circle cx="49.67" cy="191.60" r="1.15" fill="#ff00ff"/>
<circle cx="63.35" cy="191.30" r="1.15" fill="#ff00ff"/>
<circle cx="77.03" cy="191.00" r="1.15" fill="#ff00ff"/>
<circle cx="90.72" cy="190.40" r="1.15" fill="#ff00ff"/>
<circle cx="104.40" cy="192.10" r="1.15" fill="#ff00ff"/>
<rect x="22.30" y="142.30" width="82.10" height="92.10" fill="none" stroke="#8a8a8a" stroke-width="0.9"/>
<path d="M131.40 221.24h1.4M213.60 221.24h-1.4" stroke="#8a8a8a" stroke-width="0.7"/>
<path d="M131.40 208.09h1.4M213.60 208.09h-1.4" stroke="#8a8a8a" stroke-width="0.7"/>
<path d="M131.40 194.93h1.4M213.60 194.93h-1.4" stroke="#8a8a8a" stroke-width="0.7"/>
<path d="M131.40 181.77h1.4M213.60 181.77h-1.4" stroke="#8a8a8a" stroke-width="0.7"/>
<path d="M131.40 168.61h1.4M213.60 168.61h-1.4" stroke="#8a8a8a" stroke-width="0.7"/>
<path d="M131.40 155.46h1.4M213.60 155.46h-1.4" stroke="#8a8a8a" stroke-width="0.7"/>
<path d="M145.10 234.40v-1.4M145.10 142.30v1.4" stroke="#8a8a8a" stroke-width="0.7"/>
<path d="M158.80 234.40v-1.4M158.80 142.30v1.4" stroke="#8a8a8a" stroke-width="0.7"/>
<path d="M172.50 234.40v-1.4M172.50 142.30v1.4" stroke="#8a8a8a" stroke-width="0.7"/>
<path d="M186.20 234.40v-1.4M186.20 142.30v1.4" stroke="#8a8a8a" stroke-width="0.7"/>
<path d="M199.90 234.40v-1.4M199.90 142.30v1.4" stroke="#8a8a8a" stroke-width="0.7"/>
<polyline points="131.40,176.80 145.10,173.70 158.80,165.90 172.50,165.30 186.20,162.30 199.90,162.90 213.60,163.90" fill="none" stroke="#ff0000" stroke-width="1.0" stroke-opacity="0.7"/>
<circle cx="131.40" cy="176.80" r="1.6" fill="#ff0000"/>
<circle cx="145.10" cy="173.70" r="1.6" fill="#ff0000"/>
<circle cx="158.80" cy="165.90" r="1.6" fill="#ff0000"/>
<circle cx="172.50" cy="165.30" r="1.6" fill="#ff0000"/>
<circle cx="186.20" cy="162.30" r="1.6" fill="#ff0000"/>
<circle cx="199.90" cy="162.90" r="1.6" fill="#ff0000"/>
<circle cx="213.60" cy="163.90" r="1.6" fill="#ff0000"/>
<polyline points="131.40,192.20 145.10,194.50 158.80,195.40 172.50,192.60 186.20,190.80 199.90,192.20 213.60,190.60" fill="none" stroke="#00ff00" stroke-width="1.0" stroke-opacity="0.7"/>
<polygon points="131.40,189.80 132.08,191.27 133.68,191.46 132.49,192.56 132.81,194.14 131.40,193.35 129.99,194.14 130.31,192.56 129.12,191.46 130.72,191.27" fill="#00ff00"/>
<polygon points="145.10,192.10 145.78,193.57 147.38,193.76 146.19,194.86 146.51,196.44 145.10,195.65 143.69,196.44 144.01,194.86 142.82,193.76 144.42,193.57" fill="#00ff00"/>
<polygon points="158.80,193.00 159.48,194.47 161.08,194.66 159.89,195.76 160.21,197.34 158.80,196.55 157.39,197.34 157.71,195.76 156.52,194.66 158.12,194.47" fill="#00ff00"/>
<polygon points="172.50,190.20 173.18,191.67 174.78,191.86 173.59,192.96 173.91,194.54 172.50,193.75 171.09,194.54 171.41,192.96 170.22,191.86 171.82,191.67" fill="#00ff00"/>
<polygon points="186.20,188.40 186.88,189.87 188.48,190.06 187.29,191.16 187.61,192.74 186.20,191.95 184.79,192.74 185.11,191.16 183.92,190.06 185.52,189.87" fill="#00ff00"/>
<polygon points="199.90,189.80 200.58,191.27 202.18,191.46 200.99,192.56 201.31,194.14 199.90,193.35 198.49,194.14 198.81,192.56 197.62,191.46 199.22,191.27" fill="#00ff00"/>
<polygon points="213.60,188.20 214.28,189.67 215.88,189.86 214.69,190.96 215.01,192.54 213.60,191.75 212.19,192.54 212.51,190.96 211.32,189.86 212.92,189.67" fill="#00ff00"/>
<polyline points="131.40,190.30 145.10,189.30 158.80,183.70 172.50,180.90 186.20,178.90 199.90,179.10 213.60,178.50" fill="none" stroke="#ffff00" stroke-width="1.0" stroke-opacity="0.7"/>
<polygon points="131.40,188.30 133.40,191.60 129.40,191.60" fill="none" stroke="#ffff00" stroke-width="0.8"/>
<polygon points="145.10,187.30 147.10,190.60 143.10,190.60" fill="none" stroke="#ffff00" stroke-width="0.8"/>
<polygon points="158.80,181.70 160.80,185.00 156.80,185.00" fill="none" stroke="#ffff00" stroke-width="0.8"/>
<polygon points="172.50,178.90 174.50,182.20 170.50,182.20" fill="none" stroke="#ffff00" stroke-width="0.8"/>
<polygon points="186.20,176.90 188.20,180.20 184.20,180.20" fill="none" stroke="#ffff00" stroke-width="0.8"/>
<polygon points="199.90,177.10 201.90,180.40 197.90,180.40" fill="none" stroke="#ffff00" stroke-width="0.8"/>
<polygon points="213.60,176.50 215.60,179.80 211.60,179.80" fill="none" stroke="#ffff00" stroke-width="0.8"/>
<polyline points="131.40,198.40 145.10,194.30 158.80,187.70 172.50,183.40 186.20,180.50 199.90,178.90 213.60,179.90" fill="none" stroke="#0000ff" stroke-width="1.0" stroke-opacity="0.7"/>
<path d="M130.20 197.20L132.60 199.60M130.20 199.60L132.60 197.20" stroke="#0000ff" stroke-width="0.9"/>
<path d="M143.90 193.10L146.30 195.50M143.90 195.50L146.30 193.10" stroke="#0000ff" stroke-width="0.9"/>
<path d="M157.60 186.50L160.00 188.90M157.60 188.90L160.00 186.50" stroke="#0000ff" stroke-width="0.9"/>
<path d="M171.30 182.20L173.70 184.60M171.30 184.60L173.70 182.20" stroke="#0000ff" stroke-width="0.9"/>
<path d="M185.00 179.30L187.40 181.70M185.00 181.70L187.40 179.30" stroke="#0000ff" stroke-width="0.9"/>
<path d="M198.70 177.70L201.10 180.10M198.70 180.10L201.10 177.70" stroke="#0000ff" stroke-width="0.9"/>
<path d="M212.40 178.70L214.80 181.10M212.40 181.10L214.80 178.70" stroke="#0000ff" stroke-width="0.9"/>
<polyline points="131.40,180.30 145.10,179.90 158.80,173.30 172.50,171.30 186.20,170.10 199.90,169.20 213.60,169.00" fill="none" stroke="#ff00ff" stroke-width="1.0" stroke-opacity="0.7"/>
<circle cx="131.40" cy="180.30" r="1.15" fill="#ff00ff"/>
<circle cx="145.10" cy="179.90" r="1.15" fill="#ff00ff"/>
<circle cx="158.80" cy="173.30" r="1.15" fill="#ff00ff"/>
<circle cx="172.50" cy="171.30" r="1.15" fill="#ff00ff"/>
<circle cx="186.20" cy="170.10" r="1.15" fill="#ff00ff"/>
<circle cx="199.90" cy="169.20" r="1.15" fill="#ff00ff"/>
<circle cx="213.60" cy="169.00" r="1.15" fill="#ff00ff"/>
<rect x="131.40" y="142.30" width="82.20" height="92.10" fill="none" stroke="#8a8a8a" stroke-width="0.9"/>
<path d="M240.90 211.38h1.4M322.70 211.38h-1.4" stroke="#8a8a8a" stroke-width="0.7"/>
<path d="M240.90 188.35h1.4M322.70 188.35h-1.4" stroke="#8a8a8a" stroke-width="0.7"/>
<path d="M240.90 165.32h1.4M322.70 165.32h-1.4" stroke="#8a8a8a" stroke-width="0.7"/>
<path d="M254.53 234.40v-1.4M254.53 142.30v1.4" stroke="#8a8a8a" stroke-width="0.7"/>
<path d="M268.17 234.40v-1.4M268.17 142.30v1.4" stroke="#8a8a8a" stroke-width="0.7"/>
<path d="M281.80 234.40v-1.4M281.80 142.30v1.4" stroke="#8a8a8a" stroke-width="0.7"/>
<path d="M295.43 234.40v-1.4M295.43 142.30v1.4" stroke="#8a8a8a" stroke-width="0.7"/>
<path d="M309.07 234.40v-1.4M309.07 142.30v1.4" stroke="#8a8a8a" stroke-width="0.7"/>
<polyline points="240.90,172.80 254.53,163.10 268.17,160.70 281.80,160.70 295.43,158.80 309.07,154.90 322.70,153.90" fill="none" stroke="#ff0000" stroke-width="1.0" stroke-opacity="0.7"/>
<circle cx="240.90" cy="172.80" r="1.6" fill="#ff0000"/>
<circle cx="254.53" cy="163.10" r="1.6" fill="#ff0000"/>
<circle cx="268.17" cy="160.70" r="1.6" fill="#ff0000"/>
<circle cx="281.80" cy="160.70" r="1.6" fill="#ff0000"/>
<circle cx="295.43" cy="158.80" r="1.6" fill="#ff0000"/>
<circle cx="309.07" cy="154.90" r="1.6" fill="#ff0000"/>
<circle cx="322.70" cy="153.90" r="1.6" fill="#ff0000"/>
<polyline points="240.90,202.50 254.53,202.50 268.17,194.90 281.80,186.10 295.43,186.00 309.07,188.40 322.70,182.40" fill="none" stroke="#00ff00" stroke-width="1.0" stroke-opacity="0.7"/>
<polygon points="240.90,200.10 241.58,201.57 243.18,201.76 241.99,202.86 242.31,204.44 240.90,203.65 239.49,204.44 239.81,202.86 238.62,201.76 240.22,201.57" fill="#00ff00"/>
<polygon points="254.53,200.10 255.21,201.57 256.82,201.76 255.63,202.86 255.94,204.44 254.53,203.65 253.12,204.44 253.44,202.86 252.25,201.76 253.86,201.57" fill="#00ff00"/>
<polygon points="268.17,192.50 268.84,193.97 270.45,194.16 269.26,195.26 269.58,196.84 268.17,196.05 266.76,196.84 267.07,195.26 265.88,194.16 267.49,193.97" fill="#00ff00"/>
<polygon points="281.80,183.70 282.48,185.17 284.08,185.36 282.89,186.46 283.21,188.04 281.80,187.25 280.39,188.04 280.71,186.46 279.52,185.36 281.12,185.17" fill="#00ff00"/>
<polygon points="295.43,183.60 296.11,185.07 297.72,185.26 296.53,186.36 296.84,187.94 295.43,187.15 294.02,187.94 294.34,186.36 293.15,185.26 294.76,185.07" fill="#00ff00"/>
<polygon points="309.07,186.00 309.74,187.47 311.35,187.66 310.16,188.76 310.48,190.34 309.07,189.55 307.66,190.34 307.97,188.76 306.78,187.66 308.39,187.47" fill="#00ff00"/>
<polygon points="322.70,180.00 323.38,181.47 324.98,181.66 323.79,182.76 324.11,184.34 322.70,183.55 321.29,184.34 321.61,182.76 320.42,181.66 322.02,181.47" fill="#00ff00"/>
<polyline points="240.90,188.60 254.53,187.10 268.17,179.90 281.80,177.90 295.43,171.90 309.07,173.40 322.70,173.00" fill="none" stroke="#ffff00" stroke-width="1.0" stroke-opacity="0.7"/>
<polygon points="240.90,186.60 242.90,189.90 238.90,189.90" fill="none" stroke="#ffff00" stroke-width="0.8"/>
<polygon points="254.53,185.10 256.53,188.40 252.53,188.40" fill="none" stroke="#ffff00" stroke-width="0.8"/>
<polygon points="268.17,177.90 270.17,181.20 266.17,181.20" fill="none" stroke="#ffff00" stroke-width="0.8"/>
<polygon points="281.80,175.90 283.80,179.20 279.80,179.20" fill="none" stroke="#ffff00" stroke-width="0.8"/>
<polygon points="295.43,169.90 297.43,173.20 293.43,173.20" fill="none" stroke="#ffff00" stroke-width="0.8"/>
<polygon points="309.07,171.40 311.07,174.70 307.07,174.70" fill="none" stroke="#ffff00" stroke-width="0.8"/>
<polygon points="322.70,171.00 324.70,174.30 320.70,174.30" fill="none" stroke="#ffff00" stroke-width="0.8"/>
<polyline points="240.90,198.80 254.53,187.60 268.17,185.80 281.80,180.20 295.43,177.90 309.07,174.40 322.70,174.40" fill="none" stroke="#0000ff" stroke-width="1.0" stroke-opacity="0.7"/>
<path d="M239.70 197.60L242.10 200.00M239.70 200.00L242.10 197.60" stroke="#0000ff" stroke-width="0.9"/>
<path d="M253.33 186.40L255.73 188.80M253.33 188.80L255.73 186.40" stroke="#0000ff" stroke-width="0.9"/>
<path d="M266.97 184.60L269.37 187.00M266.97 187.00L269.37 184.60" stroke="#0000ff" stroke-width="0.9"/>
<path d="M280.60 179.00L283.00 181.40M280.60 181.40L283.00 179.00" stroke="#0000ff" stroke-width="0.9"/>
<path d="M294.23 176.70L296.63 179.10M294.23 179.10L296.63 176.70" stroke="#0000ff" stroke-width="0.9"/>
<path d="M307.87 173.20L310.27 175.60M307.87 175.60L310.27 173.20" stroke="#0000ff" stroke-width="0.9"/>
<path d="M321.50 173.20L323.90 175.60M321.50 175.60L323.90 173.20" stroke="#0000ff" stroke-width="0.9"/>
<polyline points="240.90,180.60 254.53,179.70 268.17,173.40 281.80,168.00 295.43,168.00 309.07,166.60 322.70,165.60" fill="none" stroke="#ff00ff" stroke-width="1.0" stroke-opacity="0.7"/>
<circle cx="240.90" cy="180.60" r="1.15" fill="#ff00ff"/>
<circle cx="254.53" cy="179.70" r="1.15" fill="#ff00ff"/>
<circle cx="268.17" cy="173.40" r="1.15" fill="#ff00ff"/>
<circle cx="281.80" cy="168.00" r="1.15" fill="#ff00ff"/>
<circle cx="295.43" cy="168.00" r="1.15" fill="#ff00ff"/>
<circle cx="309.07" cy="166.60" r="1.15" fill="#ff00ff"/>
<circle cx="322.70" cy="165.60" r="1.15" fill="#ff00ff"/>
<rect x="240.90" y="142.30" width="81.80" height="92.10" fill="none" stroke="#8a8a8a" stroke-width="0.9"/>
<path d="M350.30 215.98h1.4M432.30 215.98h-1.4" stroke="#8a8a8a" stroke-width="0.7"/>
<path d="M350.30 197.56h1.4M432.30 197.56h-1.4" stroke="#8a8a8a" stroke-width="0.7"/>
<path d="M350.30 179.14h1.4M432.30 179.14h-1.4" stroke="#8a8a8a" stroke-width="0.7"/>
<path d="M350.30 160.72h1.4M432.30 160.72h-1.4" stroke="#8a8a8a" stroke-width="0.7"/>
<path d="M363.97 234.40v-1.4M363.97 142.30v1.4" stroke="#8a8a8a" stroke-width="0.7"/>
<path d="M377.63 234.40v-1.4M377.63 142.30v1.4" stroke="#8a8a8a" stroke-width="0.7"/>
<path d="M391.30 234.40v-1.4M391.30 142.30v1.4" stroke="#8a8a8a" stroke-width="0.7"/>
<path d="M404.97 234.40v-1.4M404.97 142.30v1.4" stroke="#8a8a8a" stroke-width="0.7"/>
<path d="M418.63 234.40v-1.4M418.63 142.30v1.4" stroke="#8a8a8a" stroke-width="0.7"/>
<polyline points="350.30,182.80 363.97,178.50 377.63,164.30 391.30,164.30 404.97,163.50 418.63,164.50 432.30,164.50" fill="none" stroke="#ff0000" stroke-width="1.0" stroke-opacity="0.7"/>
<circle cx="350.30" cy="182.80" r="1.6" fill="#ff0000"/>
<circle cx="363.97" cy="178.50" r="1.6" fill="#ff0000"/>
<circle cx="377.63" cy="164.30" r="1.6" fill="#ff0000"/>
<circle cx="391.30" cy="164.30" r="1.6" fill="#ff0000"/>
<circle cx="404.97" cy="163.50" r="1.6" fill="#ff0000"/>
<circle cx="418.63" cy="164.50" r="1.6" fill="#ff0000"/>
<circle cx="432.30" cy="164.50" r="1.6" fill="#ff0000"/>
<polyline points="350.30,191.70 363.97,194.70 377.63,198.40 391.30,200.00 404.97,197.50 418.63,197.10 432.30,196.70" fill="none" stroke="#00ff00" stroke-width="1.0" stroke-opacity="0.7"/>
<polygon points="350.30,189.30 350.98,190.77 352.58,190.96 351.39,192.06 351.71,193.64 350.30,192.85 348.89,193.64 349.21,192.06 348.02,190.96 349.62,190.77" fill="#00ff00"/>
<polygon points="363.97,192.30 364.64,193.77 366.25,193.96 365.06,195.06 365.38,196.64 363.97,195.85 362.56,196.64 362.87,195.06 361.68,193.96 363.29,193.77" fill="#00ff00"/>
<polygon points="377.63,196.00 378.31,197.47 379.92,197.66 378.73,198.76 379.04,200.34 377.63,199.55 376.22,200.34 376.54,198.76 375.35,197.66 376.96,197.47" fill="#00ff00"/>
<polygon points="391.30,197.60 391.98,199.07 393.58,199.26 392.39,200.36 392.71,201.94 391.30,201.15 389.89,201.94 390.21,200.36 389.02,199.26 390.62,199.07" fill="#00ff00"/>
<polygon points="404.97,195.10 405.64,196.57 407.25,196.76 406.06,197.86 406.38,199.44 404.97,198.65 403.56,199.44 403.87,197.86 402.68,196.76 404.29,196.57" fill="#00ff00"/>
<polygon points="418.63,194.70 419.31,196.17 420.92,196.36 419.73,197.46 420.04,199.04 418.63,198.25 417.22,199.04 417.54,197.46 416.35,196.36 417.96,196.17" fill="#00ff00"/>
<polygon points="432.30,194.30 432.98,195.77 434.58,195.96 433.39,197.06 433.71,198.64 432.30,197.85 430.89,198.64 431.21,197.06 430.02,195.96 431.62,195.77" fill="#00ff00"/>
<polyline points="350.30,198.80 363.97,198.30 377.63,197.30 391.30,193.80 404.97,193.20 418.63,190.80 432.30,188.90" fill="none" stroke="#ffff00" stroke-width="1.0" stroke-opacity="0.7"/>
<polygon points="350.30,196.80 352.30,200.10 348.30,200.10" fill="none" stroke="#ffff00" stroke-width="0.8"/>
<polygon points="363.97,196.30 365.97,199.60 361.97,199.60" fill="none" stroke="#ffff00" stroke-width="0.8"/>
<polygon points="377.63,195.30 379.63,198.60 375.63,198.60" fill="none" stroke="#ffff00" stroke-width="0.8"/>
<polygon points="391.30,191.80 393.30,195.10 389.30,195.10" fill="none" stroke="#ffff00" stroke-width="0.8"/>
<polygon points="404.97,191.20 406.97,194.50 402.97,194.50" fill="none" stroke="#ffff00" stroke-width="0.8"/>
<polygon points="418.63,188.80 420.63,192.10 416.63,192.10" fill="none" stroke="#ffff00" stroke-width="0.8"/>
<polygon points="432.30,186.90 434.30,190.20 430.30,190.20" fill="none" stroke="#ffff00" stroke-width="0.8"/>
<polyline points="350.30,197.70 363.97,195.70 377.63,191.80 391.30,178.50 404.97,176.60 418.63,174.60 432.30,174.00" fill="none" stroke="#0000ff" stroke-width="1.0" stroke-opacity="0.7"/>
<path d="M349.10 196.50L351.50 198.90M349.10 198.90L351.50 196.50" stroke="#0000ff" stroke-width="0.9"/>
<path d="M362.77 194.50L365.17 196.90M362.77 196.90L365.17 194.50" stroke="#0000ff" stroke-width="0.9"/>
<path d="M376.43 190.60L378.83 193.00M376.43 193.00L378.83 190.60" stroke="#0000ff" stroke-width="0.9"/>
<path d="M390.10 177.30L392.50 179.70M390.10 179.70L392.50 177.30" stroke="#0000ff" stroke-width="0.9"/>
<path d="M403.77 175.40L406.17 177.80M403.77 177.80L406.17 175.40" stroke="#0000ff" stroke-width="0.9"/>
<path d="M417.43 173.40L419.83 175.80M417.43 175.80L419.83 173.40" stroke="#0000ff" stroke-width="0.9"/>
<path d="M431.10 172.80L433.50 175.20M431.10 175.20L433.50 172.80" stroke="#0000ff" stroke-width="0.9"/>
<polyline points="350.30,193.10 363.97,190.60 377.63,186.40 391.30,185.80 404.97,184.00 418.63,181.50 432.30,179.10" fill="none" stroke="#ff00ff" stroke-width="1.0" stroke-opacity="0.7"/>
<circle cx="350.30" cy="193.10" r="1.15" fill="#ff00ff"/>
<circle cx="363.97" cy="190.60" r="1.15" fill="#ff00ff"/>
<circle cx="377.63" cy="186.40" r="1.15" fill="#ff00ff"/>
<circle cx="391.30" cy="185.80" r="1.15" fill="#ff00ff"/>
<circle cx="404.97" cy="184.00" r="1.15" fill="#ff00ff"/>
<circle cx="418.63" cy="181.50" r="1.15" fill="#ff00ff"/>
<circle cx="432.30" cy="179.10" r="1.15" fill="#ff00ff"/>
<rect x="350.30" y="142.30" width="82.00" height="92.10" fill="none" stroke="#8a8a8a" stroke-width="0.9"/>
<path d="M459.40 211.38h1.4M541.40 211.38h-1.4" stroke="#8a8a8a" stroke-width="0.7"/>
<path d="M459.40 188.35h1.4M541.40 188.35h-1.4" stroke="#8a8a8a" stroke-width="0.7"/>
<path d="M459.40 165.32h1.4M541.40 165.32h-1.4" stroke="#8a8a8a" stroke-width="0.7"/>
<path d="M473.07 234.40v-1.4M473.07 142.30v1.4" stroke="#8a8a8a" stroke-width="0.7"/>
<path d="M486.73 234.40v-1.4M486.73 142.30v1.4" stroke="#8a8a8a" stroke-width="0.7"/>
<path d="M500.40 234.40v-1.4M500.40 142.30v1.4" stroke="#8a8a8a" stroke-width="0.7"/>
<path d="M514.07 234.40v-1.4M514.07 142.30v1.4" stroke="#8a8a8a" stroke-width="0.7"/>
<path d="M527.73 234.40v-1.4M527.73 142.30v1.4" stroke="#8a8a8a" stroke-width="0.7"/>
<polyline points="459.40,187.10 473.07,180.80 486.73,174.00 500.40,170.50 514.07,167.50 527.73,157.60 541.40,147.50" fill="none" stroke="#ff0000" stroke-width="1.0" stroke-opacity="0.7"/>
<circle cx="459.40" cy="187.10" r="1.6" fill="#ff0000"/>
<circle cx="473.07" cy="180.80" r="1.6" fill="#ff0000"/>
<circle cx="486.73" cy="174.00" r="1.6" fill="#ff0000"/>
<circle cx="500.40" cy="170.50" r="1.6" fill="#ff0000"/>
<circle cx="514.07" cy="167.50" r="1.6" fill="#ff0000"/>
<circle cx="527.73" cy="157.60" r="1.6" fill="#ff0000"/>
<circle cx="541.40" cy="147.50" r="1.6" fill="#ff0000"/>
<polyline points="459.40,203.00 473.07,203.00 486.73,194.80 500.40,195.50 514.07,186.20 527.73,183.90 541.40,182.70" fill="none" stroke="#00ff00" stroke-width="1.0" stroke-opacity="0.7"/>
<polygon points="459.40,200.60 460.08,202.07 461.68,202.26 460.49,203.36 460.81,204.94 459.40,204.15 457.99,204.94 458.31,203.36 457.12,202.26 458.72,202.07" fill="#00ff00"/>
<polygon points="473.07,200.60 473.74,202.07 475.35,202.26 474.16,203.36 474.48,204.94 473.07,204.15 471.66,204.94 471.97,203.36 470.78,202.26 472.39,202.07" fill="#00ff00"/>
<polygon points="486.73,192.40 487.41,193.87 489.02,194.06 487.83,195.16 488.14,196.74 486.73,195.95 485.32,196.74 485.64,195.16 484.45,194.06 486.06,193.87" fill="#00ff00"/>
<polygon points="500.40,193.10 501.08,194.57 502.68,194.76 501.49,195.86 501.81,197.44 500.40,196.65 498.99,197.44 499.31,195.86 498.12,194.76 499.72,194.57" fill="#00ff00"/>
<polygon points="514.07,183.80 514.74,185.27 516.35,185.46 515.16,186.56 515.48,188.14 514.07,187.35 512.66,188.14 512.97,186.56 511.78,185.46 513.39,185.27" fill="#00ff00"/>
<polygon points="527.73,181.50 528.41,182.97 530.02,183.16 528.83,184.26 529.14,185.84 527.73,185.05 526.32,185.84 526.64,184.26 525.45,183.16 527.06,182.97" fill="#00ff00"/>
<polygon points="541.40,180.30 542.08,181.77 543.68,181.96 542.49,183.06 542.81,184.64 541.40,183.85 539.99,184.64 540.31,183.06 539.12,181.96 540.72,181.77" fill="#00ff00"/>
<polyline points="459.40,199.90 473.07,199.30 486.73,191.50 500.40,189.80 514.07,183.40 527.73,185.00 541.40,184.60" fill="none" stroke="#ffff00" stroke-width="1.0" stroke-opacity="0.7"/>
<polygon points="459.40,197.90 461.40,201.20 457.40,201.20" fill="none" stroke="#ffff00" stroke-width="0.8"/>
<polygon points="473.07,197.30 475.07,200.60 471.07,200.60" fill="none" stroke="#ffff00" stroke-width="0.8"/>
<polygon points="486.73,189.50 488.73,192.80 484.73,192.80" fill="none" stroke="#ffff00" stroke-width="0.8"/>
<polygon points="500.40,187.80 502.40,191.10 498.40,191.10" fill="none" stroke="#ffff00" stroke-width="0.8"/>
<polygon points="514.07,181.40 516.07,184.70 512.07,184.70" fill="none" stroke="#ffff00" stroke-width="0.8"/>
<polygon points="527.73,183.00 529.73,186.30 525.73,186.30" fill="none" stroke="#ffff00" stroke-width="0.8"/>
<polygon points="541.40,182.60 543.40,185.90 539.40,185.90" fill="none" stroke="#ffff00" stroke-width="0.8"/>
<polyline points="459.40,196.40 473.07,183.00 486.73,181.50 500.40,180.40 514.07,178.00 527.73,174.50 541.40,174.50" fill="none" stroke="#0000ff" stroke-width="1.0" stroke-opacity="0.7"/>
<path d="M458.20 195.20L460.60 197.60M458.20 197.60L460.60 195.20" stroke="#0000ff" stroke-width="0.9"/>
<path d="M471.87 181.80L474.27 184.20M471.87 184.20L474.27 181.80" stroke="#0000ff" stroke-width="0.9"/>
<path d="M485.53 180.30L487.93 182.70M485.53 182.70L487.93 180.30" stroke="#0000ff" stroke-width="0.9"/>
<path d="M499.20 179.20L501.60 181.60M499.20 181.60L501.60 179.20" stroke="#0000ff" stroke-width="0.9"/>
<path d="M512.87 176.80L515.27 179.20M512.87 179.20L515.27 176.80" stroke="#0000ff" stroke-width="0.9"/>
<path d="M526.53 173.30L528.93 175.70M526.53 175.70L528.93 173.30" stroke="#0000ff" stroke-width="0.9"/>
<path d="M540.20 173.30L542.60 175.70M540.20 175.70L542.60 173.30" stroke="#0000ff" stroke-width="0.9"/>
<polyline points="459.40,186.60 473.07,185.00 486.73,176.30 500.40,172.20 514.07,168.60 527.73,166.30 541.40,165.80" fill="none" stroke="#ff00ff" stroke-width="1.0" stroke-opacity="0.7"/>
<circle cx="459.40" cy="186.60" r="1.15" fill="#ff00ff"/>
<circle cx="473.07" cy="185.00" r="1.15" fill="#ff00ff"/>
<circle cx="486.73" cy="176.30" r="1.15" fill="#ff00ff"/>
<circle cx="500.40" cy="172.20" r="1.15" fill="#ff00ff"/>
<circle cx="514.07" cy="168.60" r="1.15" fill="#ff00ff"/>
<circle cx="527.73" cy="166.30" r="1.15" fill="#ff00ff"/>
<circle cx="541.40" cy="165.80" r="1.15" fill="#ff00ff"/>
<rect x="459.40" y="142.30" width="82.00" height="92.10" fill="none" stroke="#8a8a8a" stroke-width="0.9"/>
<rect x="55.4" y="61.2" width="46.90" height="42.80" fill="#fff" stroke="#8a8a8a" stroke-width="0.8"/>
<path d="M57.9 66.4H76.2" stroke="#ff0000" stroke-width="0.9" stroke-opacity="0.55"/>
<circle cx="67.20" cy="66.40" r="1.6" fill="#ff0000"/>
<path d="M57.9 74.8H76.2" stroke="#00ff00" stroke-width="0.9" stroke-opacity="0.55"/>
<polygon points="67.20,72.40 67.88,73.87 69.48,74.06 68.29,75.16 68.61,76.74 67.20,75.95 65.79,76.74 66.11,75.16 64.92,74.06 66.52,73.87" fill="#00ff00"/>
<path d="M57.9 83.0H76.2" stroke="#ffff00" stroke-width="0.9" stroke-opacity="0.55"/>
<polygon points="67.20,81.00 69.20,84.30 65.20,84.30" fill="none" stroke="#ffff00" stroke-width="0.8"/>
<path d="M57.9 91.2H76.2" stroke="#0000ff" stroke-width="0.9" stroke-opacity="0.55"/>
<path d="M66.00 90.00L68.40 92.40M66.00 92.40L68.40 90.00" stroke="#0000ff" stroke-width="0.9"/>
<path d="M57.9 99.4H76.2" stroke="#ff00ff" stroke-width="0.9" stroke-opacity="0.55"/>
<circle cx="67.20" cy="99.40" r="1.15" fill="#ff00ff"/>
<g style="filter:grayscale(1)">
<g transform="translate(20.70,108.30) scale(1,1.12) skewX(0.5)"><text text-anchor="end">0.3</text></g>
<g transform="translate(20.70,95.17) scale(1,1.12) skewX(0.5)"><text text-anchor="end">0.4</text></g>
<g transform="translate(20.70,82.04) scale(1,1.12) skewX(0.5)"><text text-anchor="end">0.5</text></g>
<g transform="translate(20.70,68.91) scale(1,1.12) skewX(0.5)"><text text-anchor="end">0.6</text></g>
<g transform="translate(20.70,55.79) scale(1,1.12) skewX(0.5)"><text text-anchor="end">0.7</text></g>
<g transform="translate(20.70,42.66) scale(1,1.12) skewX(0.5)"><text text-anchor="end">0.8</text></g>
<g transform="translate(20.70,29.53) scale(1,1.12) skewX(0.5)"><text text-anchor="end">0.9</text></g>
<g transform="translate(20.70,16.40) scale(1,1.12) skewX(0.5)"><text text-anchor="end">1</text></g>
<g transform="translate(22.50,113.60) scale(1,1.12) skewX(0.5)"><text text-anchor="middle">50</text></g>
<g transform="translate(36.17,113.60) scale(1,1.12) skewX(0.5)"><text text-anchor="middle">75</text></g>
<g transform="translate(49.83,113.60) scale(1,1.12) skewX(0.5)"><text text-anchor="middle">100</text></g>
<g transform="translate(63.50,113.60) scale(1,1.12) skewX(0.5)"><text text-anchor="middle">125</text></g>
<g transform="translate(77.17,113.60) scale(1,1.12) skewX(0.5)"><text text-anchor="middle">150</text></g>
<g transform="translate(90.83,113.60) scale(1,1.12) skewX(0.5)"><text text-anchor="middle">175</text></g>
<g transform="translate(104.50,113.60) scale(1,1.12) skewX(0.5)"><text text-anchor="middle">200</text></g>
<g transform="translate(63.50,9.60) scale(1,1.12) skewX(0.5)"><text text-anchor="middle">Msplice</text></g>
<g transform="translate(64.30,120.50) scale(1,1.12) skewX(0.5)"><text text-anchor="middle">Target Dimensionality (c)</text></g>
<g transform="translate(8.60,60.65) rotate(-90) skewX(0.5)"><text text-anchor="middle" style="stroke-width:0.18px">PU</text></g>
<g transform="translate(131.70,108.30) scale(1,1.12) skewX(0.5)"><text text-anchor="end">0.75</text></g>
<g transform="translate(131.70,89.92) scale(1,1.12) skewX(0.5)"><text text-anchor="end">0.8</text></g>
<g transform="translate(131.70,71.54) scale(1,1.12) skewX(0.5)"><text text-anchor="end">0.85</text></g>
<g transform="translate(131.70,53.16) scale(1,1.12) skewX(0.5)"><text text-anchor="end">0.9</text></g>
<g transform="translate(131.70,34.78) scale(1,1.12) skewX(0.5)"><text text-anchor="end">0.95</text></g>
<g transform="translate(131.70,16.40) scale(1,1.12) skewX(0.5)"><text text-anchor="end">1</text></g>
<g transform="translate(133.50,113.60) scale(1,1.12) skewX(0.5)"><text text-anchor="middle">50</text></g>
<g transform="translate(146.83,113.60) scale(1,1.12) skewX(0.5)"><text text-anchor="middle">75</text></g>
<g transform="translate(160.17,113.60) scale(1,1.12) skewX(0.5)"><text text-anchor="middle">100</text></g>
<g transform="translate(173.50,113.60) scale(1,1.12) skewX(0.5)"><text text-anchor="middle">125</text></g>
<g transform="translate(186.83,113.60) scale(1,1.12) skewX(0.5)"><text text-anchor="middle">150</text></g>
<g transform="translate(200.17,113.60) scale(1,1.12) skewX(0.5)"><text text-anchor="middle">175</text></g>
<g transform="translate(213.50,113.60) scale(1,1.12) skewX(0.5)"><text text-anchor="middle">200</text></g>
<g transform="translate(173.50,9.60) scale(1,1.12) skewX(0.5)"><text text-anchor="middle">W1a</text></g>
<g transform="translate(174.30,120.50) scale(1,1.12) skewX(0.5)"><text text-anchor="middle">Target Dimensionality (c)</text></g>
<g transform="translate(115.50,60.65) rotate(-90) skewX(0.5)"><text text-anchor="middle" style="stroke-width:0.18px">PU</text></g>
<g transform="translate(239.20,108.30) scale(1,1.12) skewX(0.5)"><text text-anchor="end">0.3</text></g>
<g transform="translate(239.20,85.32) scale(1,1.12) skewX(0.5)"><text text-anchor="end">0.4</text></g>
<g transform="translate(239.20,62.35) scale(1,1.12) skewX(0.5)"><text text-anchor="end">0.5</text></g>
<g transform="translate(239.20,39.37) scale(1,1.12) skewX(0.5)"><text text-anchor="end">0.6</text></g>
<g transform="translate(241.00,113.60) scale(1,1.12) skewX(0.5)"><text text-anchor="middle">50</text></g>
<g transform="translate(254.62,113.60) scale(1,1.12) skewX(0.5)"><text text-anchor="middle">75</text></g>
<g transform="translate(268.23,113.60) scale(1,1.12) skewX(0.5)"><text text-anchor="middle">100</text></g>
<g transform="translate(281.85,113.60) scale(1,1.12) skewX(0.5)"><text text-anchor="middle">125</text></g>
<g transform="translate(295.47,113.60) scale(1,1.12) skewX(0.5)"><text text-anchor="middle">150</text></g>
<g transform="translate(309.08,113.60) scale(1,1.12) skewX(0.5)"><text text-anchor="middle">175</text></g>
<g transform="translate(322.70,113.60) scale(1,1.12) skewX(0.5)"><text text-anchor="middle">200</text></g>
<g transform="translate(281.85,9.60) scale(1,1.12) skewX(0.5)"><text text-anchor="middle">Soccer-sub1</text></g>
<g transform="translate(282.65,120.50) scale(1,1.12) skewX(0.5)"><text text-anchor="middle">Target Dimensionality (c)</text></g>
<g transform="translate(226.20,60.65) rotate(-90) skewX(0.5)"><text text-anchor="middle" style="stroke-width:0.18px">PU</text></g>
<g transform="translate(348.20,108.30) scale(1,1.12) skewX(0.5)"><text text-anchor="end">0.75</text></g>
<g transform="translate(348.20,89.92) scale(1,1.12) skewX(0.5)"><text text-anchor="end">0.8</text></g>
<g transform="translate(348.20,71.54) scale(1,1.12) skewX(0.5)"><text text-anchor="end">0.85</text></g>
<g transform="translate(348.20,53.16) scale(1,1.12) skewX(0.5)"><text text-anchor="end">0.9</text></g>
<g transform="translate(348.20,34.78) scale(1,1.12) skewX(0.5)"><text text-anchor="end">0.95</text></g>
<g transform="translate(348.20,16.40) scale(1,1.12) skewX(0.5)"><text text-anchor="end">1</text></g>
<g transform="translate(350.00,113.60) scale(1,1.12) skewX(0.5)"><text text-anchor="middle">100</text></g>
<g transform="translate(363.72,113.60) scale(1,1.12) skewX(0.5)"><text text-anchor="middle">150</text></g>
<g transform="translate(377.43,113.60) scale(1,1.12) skewX(0.5)"><text text-anchor="middle">200</text></g>
<g transform="translate(391.15,113.60) scale(1,1.12) skewX(0.5)"><text text-anchor="middle">250</text></g>
<g transform="translate(404.87,113.60) scale(1,1.12) skewX(0.5)"><text text-anchor="middle">300</text></g>
<g transform="translate(418.58,113.60) scale(1,1.12) skewX(0.5)"><text text-anchor="middle">350</text></g>
<g transform="translate(432.30,113.60) scale(1,1.12) skewX(0.5)"><text text-anchor="middle">400</text></g>
<g transform="translate(391.15,9.60) scale(1,1.12) skewX(0.5)"><text text-anchor="middle">Madelon</text></g>
<g transform="translate(391.95,120.50) scale(1,1.12) skewX(0.5)"><text text-anchor="middle">Target Dimensionality (c)</text></g>
<g transform="translate(332.30,60.65) rotate(-90) skewX(0.5)"><text text-anchor="middle" style="stroke-width:0.18px">PU</text></g>
<g transform="translate(457.50,108.30) scale(1,1.12) skewX(0.5)"><text text-anchor="end">0</text></g>
<g transform="translate(457.50,89.92) scale(1,1.12) skewX(0.5)"><text text-anchor="end">0.1</text></g>
<g transform="translate(457.50,71.54) scale(1,1.12) skewX(0.5)"><text text-anchor="end">0.2</text></g>
<g transform="translate(457.50,53.16) scale(1,1.12) skewX(0.5)"><text text-anchor="end">0.3</text></g>
<g transform="translate(457.50,34.78) scale(1,1.12) skewX(0.5)"><text text-anchor="end">0.4</text></g>
<g transform="translate(457.50,16.40) scale(1,1.12) skewX(0.5)"><text text-anchor="end">0.5</text></g>
<g transform="translate(459.30,113.60) scale(1,1.12) skewX(0.5)"><text text-anchor="middle">50</text></g>
<g transform="translate(473.00,113.60) scale(1,1.12) skewX(0.5)"><text text-anchor="middle">75</text></g>
<g transform="translate(486.70,113.60) scale(1,1.12) skewX(0.5)"><text text-anchor="middle">100</text></g>
<g transform="translate(500.40,113.60) scale(1,1.12) skewX(0.5)"><text text-anchor="middle">125</text></g>
<g transform="translate(514.10,113.60) scale(1,1.12) skewX(0.5)"><text text-anchor="middle">150</text></g>
<g transform="translate(527.80,113.60) scale(1,1.12) skewX(0.5)"><text text-anchor="middle">175</text></g>
<g transform="translate(541.50,113.60) scale(1,1.12) skewX(0.5)"><text text-anchor="middle">200</text></g>
<g transform="translate(500.40,9.60) scale(1,1.12) skewX(0.5)"><text text-anchor="middle">FG-NET</text></g>
<g transform="translate(501.20,120.50) scale(1,1.12) skewX(0.5)"><text text-anchor="middle">Target Dimensionality (c)</text></g>
<g transform="translate(445.00,60.65) rotate(-90) skewX(0.5)"><text text-anchor="middle" style="stroke-width:0.18px">PU</text></g>
<g transform="translate(20.50,236.40) scale(1,1.12) skewX(0.5)"><text text-anchor="end">0.4</text></g>
<g transform="translate(20.50,213.38) scale(1,1.12) skewX(0.5)"><text text-anchor="end">0.5</text></g>
<g transform="translate(20.50,190.35) scale(1,1.12) skewX(0.5)"><text text-anchor="end">0.6</text></g>
<g transform="translate(20.50,167.32) scale(1,1.12) skewX(0.5)"><text text-anchor="end">0.7</text></g>
<g transform="translate(20.50,144.30) scale(1,1.12) skewX(0.5)"><text text-anchor="end">0.8</text></g>
<g transform="translate(22.30,241.70) scale(1,1.12) skewX(0.5)"><text text-anchor="middle">50</text></g>
<g transform="translate(35.98,241.70) scale(1,1.12) skewX(0.5)"><text text-anchor="middle">75</text></g>
<g transform="translate(49.67,241.70) scale(1,1.12) skewX(0.5)"><text text-anchor="middle">100</text></g>
<g transform="translate(63.35,241.70) scale(1,1.12) skewX(0.5)"><text text-anchor="middle">125</text></g>
<g transform="translate(77.03,241.70) scale(1,1.12) skewX(0.5)"><text text-anchor="middle">150</text></g>
<g transform="translate(90.72,241.70) scale(1,1.12) skewX(0.5)"><text text-anchor="middle">175</text></g>
<g transform="translate(104.40,241.70) scale(1,1.12) skewX(0.5)"><text text-anchor="middle">200</text></g>
<g transform="translate(63.35,137.50) scale(1,1.12) skewX(0.5)"><text text-anchor="middle">ORL</text></g>
<g transform="translate(64.15,248.60) scale(1,1.12) skewX(0.5)"><text text-anchor="middle">Target Dimensionality (c)</text></g>
<g transform="translate(7.30,188.65) rotate(-90) skewX(0.5)"><text text-anchor="middle" style="stroke-width:0.18px">PU</text></g>
<g transform="translate(129.60,236.40) scale(1,1.12) skewX(0.5)"><text text-anchor="end">0.3</text></g>
<g transform="translate(129.60,223.24) scale(1,1.12) skewX(0.5)"><text text-anchor="end">0.4</text></g>
<g transform="translate(129.60,210.09) scale(1,1.12) skewX(0.5)"><text text-anchor="end">0.5</text></g>
<g transform="translate(129.60,196.93) scale(1,1.12) skewX(0.5)"><text text-anchor="end">0.6</text></g>
<g transform="translate(129.60,183.77) scale(1,1.12) skewX(0.5)"><text text-anchor="end">0.7</text></g>
<g transform="translate(129.60,170.61) scale(1,1.12) skewX(0.5)"><text text-anchor="end">0.8</text></g>
<g transform="translate(129.60,157.46) scale(1,1.12) skewX(0.5)"><text text-anchor="end">0.9</text></g>
<g transform="translate(129.60,144.30) scale(1,1.12) skewX(0.5)"><text text-anchor="end">1</text></g>
<g transform="translate(131.40,241.70) scale(1,1.12) skewX(0.5)"><text text-anchor="middle">50</text></g>
<g transform="translate(145.10,241.70) scale(1,1.12) skewX(0.5)"><text text-anchor="middle">75</text></g>
<g transform="translate(158.80,241.70) scale(1,1.12) skewX(0.5)"><text text-anchor="middle">100</text></g>
<g transform="translate(172.50,241.70) scale(1,1.12) skewX(0.5)"><text text-anchor="middle">125</text></g>
<g transform="translate(186.20,241.70) scale(1,1.12) skewX(0.5)"><text text-anchor="middle">150</text></g>
<g transform="translate(199.90,241.70) scale(1,1.12) skewX(0.5)"><text text-anchor="middle">175</text></g>
<g transform="translate(213.60,241.70) scale(1,1.12) skewX(0.5)"><text text-anchor="middle">200</text></g>
<g transform="translate(172.50,137.50) scale(1,1.12) skewX(0.5)"><text text-anchor="middle">Musk</text></g>
<g transform="translate(173.30,248.60) scale(1,1.12) skewX(0.5)"><text text-anchor="middle">Target Dimensionality (c)</text></g>
<g transform="translate(117.10,188.65) rotate(-90) skewX(0.5)"><text text-anchor="middle" style="stroke-width:0.18px">PU</text></g>
<g transform="translate(239.10,236.40) scale(1,1.12) skewX(0.5)"><text text-anchor="end">0.3</text></g>
<g transform="translate(239.10,213.38) scale(1,1.12) skewX(0.5)"><text text-anchor="end">0.4</text></g>
<g transform="translate(239.10,190.35) scale(1,1.12) skewX(0.5)"><text text-anchor="end">0.5</text></g>
<g transform="translate(239.10,167.32) scale(1,1.12) skewX(0.5)"><text text-anchor="end">0.6</text></g>
<g transform="translate(240.90,241.70) scale(1,1.12) skewX(0.5)"><text text-anchor="middle">50</text></g>
<g transform="translate(254.53,241.70) scale(1,1.12) skewX(0.5)"><text text-anchor="middle">75</text></g>
<g transform="translate(268.17,241.70) scale(1,1.12) skewX(0.5)"><text text-anchor="middle">100</text></g>
<g transform="translate(281.80,241.70) scale(1,1.12) skewX(0.5)"><text text-anchor="middle">125</text></g>
<g transform="translate(295.43,241.70) scale(1,1.12) skewX(0.5)"><text text-anchor="middle">150</text></g>
<g transform="translate(309.07,241.70) scale(1,1.12) skewX(0.5)"><text text-anchor="middle">175</text></g>
<g transform="translate(322.70,241.70) scale(1,1.12) skewX(0.5)"><text text-anchor="middle">200</text></g>
<g transform="translate(281.80,137.50) scale(1,1.12) skewX(0.5)"><text text-anchor="middle">CNAE-9</text></g>
<g transform="translate(282.60,248.60) scale(1,1.12) skewX(0.5)"><text text-anchor="middle">Target Dimensionality (c)</text></g>
<g transform="translate(226.30,188.65) rotate(-90) skewX(0.5)"><text text-anchor="middle" style="stroke-width:0.18px">PU</text></g>
<g transform="translate(348.50,236.40) scale(1,1.12) skewX(0.5)"><text text-anchor="end">0</text></g>
<g transform="translate(348.50,217.98) scale(1,1.12) skewX(0.5)"><text text-anchor="end">0.1</text></g>
<g transform="translate(348.50,199.56) scale(1,1.12) skewX(0.5)"><text text-anchor="end">0.2</text></g>
<g transform="translate(348.50,181.14) scale(1,1.12) skewX(0.5)"><text text-anchor="end">0.3</text></g>
<g transform="translate(348.50,162.72) scale(1,1.12) skewX(0.5)"><text text-anchor="end">0.4</text></g>
<g transform="translate(348.50,144.30) scale(1,1.12) skewX(0.5)"><text text-anchor="end">0.5</text></g>
<g transform="translate(350.30,241.70) scale(1,1.12) skewX(0.5)"><text text-anchor="middle">50</text></g>
<g transform="translate(363.97,241.70) scale(1,1.12) skewX(0.5)"><text text-anchor="middle">75</text></g>
<g transform="translate(377.63,241.70) scale(1,1.12) skewX(0.5)"><text text-anchor="middle">100</text></g>
<g transform="translate(391.30,241.70) scale(1,1.12) skewX(0.5)"><text text-anchor="middle">125</text></g>
<g transform="translate(404.97,241.70) scale(1,1.12) skewX(0.5)"><text text-anchor="middle">150</text></g>
<g transform="translate(418.63,241.70) scale(1,1.12) skewX(0.5)"><text text-anchor="middle">175</text></g>
<g transform="translate(432.30,241.70) scale(1,1.12) skewX(0.5)"><text text-anchor="middle">200</text></g>
<g transform="translate(391.30,137.50) scale(1,1.12) skewX(0.5)"><text text-anchor="middle">SECOM</text></g>
<g transform="translate(392.10,248.60) scale(1,1.12) skewX(0.5)"><text text-anchor="middle">Target Dimensionality (c)</text></g>
<g transform="translate(335.70,188.65) rotate(-90) skewX(0.5)"><text text-anchor="middle" style="stroke-width:0.18px">PU</text></g>
<g transform="translate(457.60,236.40) scale(1,1.12) skewX(0.5)"><text text-anchor="end">0.3</text></g>
<g transform="translate(457.60,213.38) scale(1,1.12) skewX(0.5)"><text text-anchor="end">0.4</text></g>
<g transform="translate(457.60,190.35) scale(1,1.12) skewX(0.5)"><text text-anchor="end">0.5</text></g>
<g transform="translate(457.60,167.32) scale(1,1.12) skewX(0.5)"><text text-anchor="end">0.6</text></g>
<g transform="translate(459.40,241.70) scale(1,1.12) skewX(0.5)"><text text-anchor="middle">50</text></g>
<g transform="translate(473.07,241.70) scale(1,1.12) skewX(0.5)"><text text-anchor="middle">75</text></g>
<g transform="translate(486.73,241.70) scale(1,1.12) skewX(0.5)"><text text-anchor="middle">100</text></g>
<g transform="translate(500.40,241.70) scale(1,1.12) skewX(0.5)"><text text-anchor="middle">125</text></g>
<g transform="translate(514.07,241.70) scale(1,1.12) skewX(0.5)"><text text-anchor="middle">150</text></g>
<g transform="translate(527.73,241.70) scale(1,1.12) skewX(0.5)"><text text-anchor="middle">175</text></g>
<g transform="translate(541.40,241.70) scale(1,1.12) skewX(0.5)"><text text-anchor="middle">200</text></g>
<g transform="translate(500.40,137.50) scale(1,1.12) skewX(0.5)"><text text-anchor="middle">DrivFace</text></g>
<g transform="translate(501.20,248.60) scale(1,1.12) skewX(0.5)"><text text-anchor="middle">Target Dimensionality (c)</text></g>
<g transform="translate(445.10,188.65) rotate(-90) skewX(0.5)"><text text-anchor="middle" style="stroke-width:0.18px">PU</text></g>
<g transform="translate(78.60,68.50) scale(1,1.12) skewX(0.5)"><text text-anchor="start" style="font-size:6.1px">LE-CAS</text></g>
<g transform="translate(78.60,76.90) scale(1,1.12) skewX(0.5)"><text text-anchor="start" style="font-size:6.1px">LE</text></g>
<g transform="translate(78.60,85.10) scale(1,1.12) skewX(0.5)"><text text-anchor="start" style="font-size:6.1px">S-LE</text></g>
<g transform="translate(78.60,93.30) scale(1,1.12) skewX(0.5)"><text text-anchor="start" style="font-size:6.1px">GGLE</text></g>
<g transform="translate(78.60,101.50) scale(1,1.12) skewX(0.5)"><text text-anchor="start" style="font-size:6.1px">SCPLE</text></g>
</g>
</g>
</svg></body></html>
